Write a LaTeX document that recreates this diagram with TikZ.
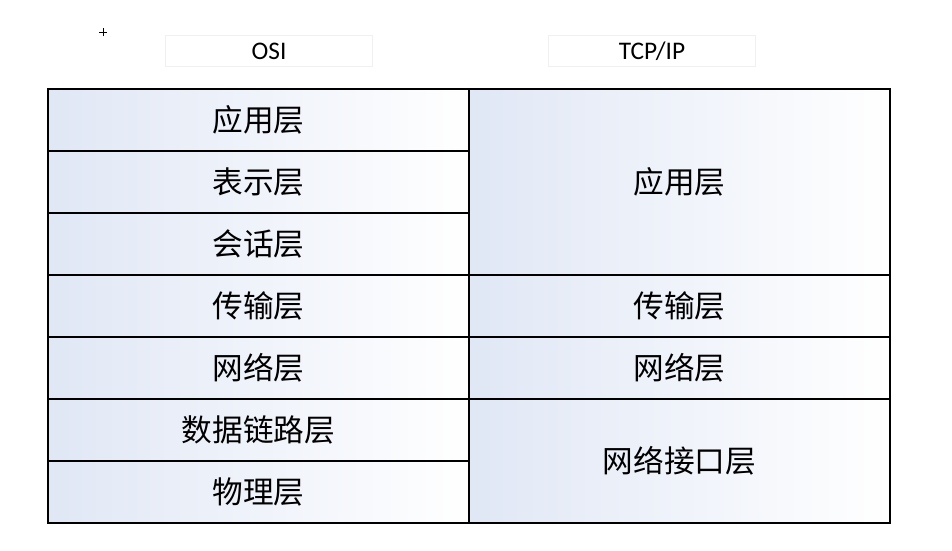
\documentclass[tikz,border=0pt]{standalone}
\usepackage{fontspec}
\setmainfont{Carlito}
\newfontfamily\cjk{Noto Sans CJK SC}
\definecolor{cellblue}{RGB}{224,231,245}

\begin{document}
\begin{tikzpicture}[x=0.75pt,y=-0.75pt,
  cell/.style={draw,line width=1.5pt,left color=cellblue,middle color=cellblue!35,
    right color=white,
    minimum width=315.75pt,minimum height=46.5pt,anchor=north west,inner sep=0pt,
    font=\cjk\fontsize{23}{27}\selectfont},
  head/.style={draw=black!6,line width=0.75pt,minimum width=155.25pt,
    minimum height=23.25pt,anchor=north west,inner sep=0pt,
    font=\fontsize{19}{22}\selectfont}]
\useasboundingbox (0,0) rectangle (952,550);
% cursor mark
\coordinate (mark) at (103,32);
\draw[line width=0.5pt] ([xshift=-3pt]mark) -- ([xshift=3pt]mark)
  ([yshift=-3pt]mark) -- ([yshift=3pt]mark);
% headers
\node[head] (osihead) at (165,35) {OSI};
\node[head] (tcphead) at (548,35) {TCP/IP};
% OSI
\foreach \n/\t [count=\i from 0] in {osi1/应用层,osi2/表示层,osi3/会话层,
    osi4/传输层,osi5/网络层,osi6/数据链路层,osi7/物理层}
  \node[cell] (\n) at (47,{88+62*\i}) {\t};
% TCP/IP
\node[cell,minimum height=139.5pt] (tcp1) at (468,88) {应用层};
\node[cell] (tcp2) at (468,274) {传输层};
\node[cell] (tcp3) at (468,336) {网络层};
\node[cell,minimum height=93pt] (tcp4) at (468,398) {网络接口层};
\end{tikzpicture}
\end{document}
